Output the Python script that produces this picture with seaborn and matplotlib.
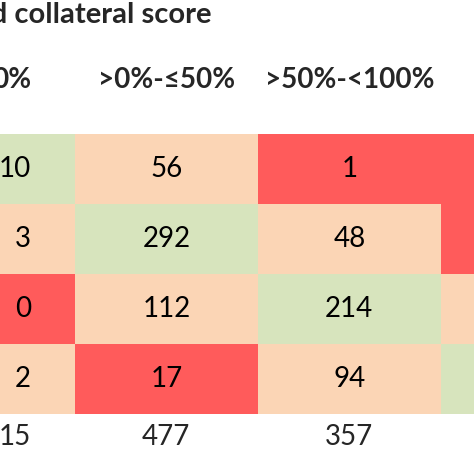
import numpy as np
import matplotlib
matplotlib.use("Agg")
import matplotlib.pyplot as plt
from matplotlib.colors import ListedColormap
import seaborn as sns

columns = ["0%", ">0%-≤50%", ">50%-<100%", "100%"]
values = [[10, 56, 1, 0],
          [3, 292, 48, 5],
          [0, 112, 214, 40],
          [2, 17, 94, 120]]
# 0 = agreement (green), 1 = adjacent (peach), 2 = far (red)
codes = [[0, 1, 2, 2],
         [1, 0, 1, 2],
         [2, 1, 0, 1],
         [1, 2, 1, 0]]
totals = [15, 477, 357, 165]
title = "Predicted collateral score"

sns.set_theme(style="white")
plt.rcParams['font.family'] = ['Lato', 'DejaVu Sans']

fig = plt.figure(figsize=(4.74, 4.74), dpi=100)
ax = fig.add_axes([-0.228, 0.1266, 1.544, 0.5907])
cmap = ListedColormap(["#D7E4BD", "#FBD5B5", "#FF5B5B"])
sns.heatmap(np.array(codes), cmap=cmap, vmin=-0.5, vmax=2.5, cbar=False,
            annot=np.array(values), fmt="d", annot_kws={"fontsize": 20, "color": "black"},
            xticklabels=False, yticklabels=False, ax=ax, linewidths=0)
for t in ax.texts:
    x, y = t.get_position()
    if x < 1:
        t.set_position((0.76, y))
        t.set_ha("right")
ax.set_ylim(4, 0)
for j, (c, tot) in enumerate(zip(columns, totals)):
    xx = j + 0.5
    ha = "center"
    if j == 0:
        xx, ha = 0.76, "right"
    ax.text(xx, -0.77, c, ha=ha, va="center", fontsize=20, fontweight="bold", clip_on=False)
    ax.text(xx, 4.33, str(tot), ha=ha, va="center", fontsize=20, clip_on=False)
fig.text(212 / 474, 1 - 15 / 474, title, ha="right", va="center", fontsize=21, fontweight="bold")
for s in ax.spines.values():
    s.set_visible(False)
fig.savefig("out.png", dpi=100)
